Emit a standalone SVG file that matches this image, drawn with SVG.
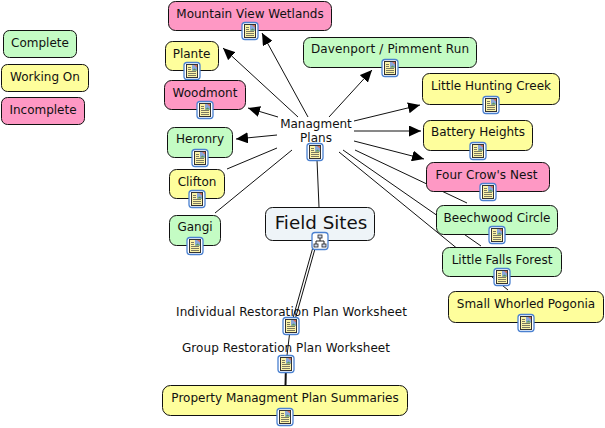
<svg xmlns="http://www.w3.org/2000/svg" xmlns:xlink="http://www.w3.org/1999/xlink" width="605" height="428" viewBox="0 0 605 428">
<style>
text{font-family:"DejaVu Sans",Verdana,sans-serif;font-size:12px;fill:#111;text-anchor:middle}
.n{stroke:#111;stroke-width:1}
.g{fill:#c4fcc4}.y{fill:#fefe9c}.p{fill:#fe98c4}.b{fill:#eef4f8}
.c{fill:none;stroke:#111;stroke-width:1}
</style>
<defs>
<marker id="a" markerUnits="userSpaceOnUse" markerWidth="12" markerHeight="11" refX="12" refY="5.500" orient="auto"><path d="M0 0L12 5.500L0 11z" fill="#000"/></marker>
<g id="doc">
<rect x="-8" y="-8.500" width="16" height="17" rx="3" fill="#fff" stroke="#4a80d0" stroke-width="1.300"/>
<rect x="-5.500" y="-6.500" width="11" height="13" fill="#fbf3a8" stroke="#333" stroke-width="1"/>
<rect x="0" y="-6" width="5" height="5.500" fill="#8aa6d8"/>
<path d="M2-6h3v2.500z" fill="#d8705a"/>
<path d="M0-.5l2.500-2 2.500 2z" fill="#5a9a5a"/>
<path d="M-4-3.500h3M-4-1.500h3M-4 .5h8M-4 2.500h8M-4 4.500h8" stroke="#444" stroke-width="0.700"/>
</g>
<g id="map">
<rect x="-8" y="-8.500" width="16" height="17" rx="3" fill="#fff" stroke="#4a80d0" stroke-width="1.300"/>
<path d="M0-3V0M-4 3V0H4V3" fill="none" stroke="#222" stroke-width="1"/>
<rect x="-2" y="-6" width="4" height="3" fill="#cdd8ee" stroke="#222" stroke-width="0.800"/>
<rect x="-6" y="3" width="4" height="3" fill="#cdd8ee" stroke="#222" stroke-width="0.800"/>
<rect x="2" y="3" width="4" height="3" fill="#cdd8ee" stroke="#222" stroke-width="0.800"/>
</g>
</defs>
<rect width="605" height="428" fill="#fff"/>
<g id="connectors">
<path class="c" marker-end="url(#a)" d="M308 117L262 33"/>
<path class="c" marker-end="url(#a)" d="M298 117L223 48"/>
<path class="c" marker-end="url(#a)" d="M278 117L248 108"/>
<path class="c" marker-end="url(#a)" d="M277 135L236 139"/>
<path class="c" d="M277 148L227 169"/>
<path class="c" d="M292 150L215 213"/>
<path class="c" marker-end="url(#a)" d="M329 117L372 70"/>
<path class="c" marker-end="url(#a)" d="M354 121L420 105"/>
<path class="c" marker-end="url(#a)" d="M354 131L421 131"/>
<path class="c" marker-end="url(#a)" d="M354 141L424 159"/>
<path class="c" d="M355 150L467 203"/>
<path class="c" d="M343 150L481 246"/>
<path class="c" d="M339 152L508 290"/>
<path class="c" d="M317 160L319 207"/>
<path class="c" d="M313 247L293 318"/>
<path class="c" d="M315.500 247L295.500 318"/>
<path class="c" d="M290 330L286 364"/>
<path class="c" d="M286 364L285.500 385" style="stroke-width:2"/>
</g>
<g id="legend-complete"><rect class="n g" x="3.500" y="30.500" width="73" height="27" rx="6"/><text x="40" y="47">Complete</text></g>
<g id="legend-working"><rect class="n y" x="1.500" y="64.500" width="87" height="27" rx="6"/><text x="45" y="81">Working On</text></g>
<g id="legend-incomplete"><rect class="n p" x="1.500" y="97.500" width="83" height="27" rx="6"/><text x="43" y="114">Incomplete</text></g>
<g id="mountain-view"><rect class="n p" x="168.500" y="1.500" width="163" height="29" rx="7"/><text x="250" y="18">Mountain View Wetlands</text><use xlink:href="#doc" href="#doc" x="250" y="31"/></g>
<g id="plante"><rect class="n y" x="165.500" y="41.500" width="53" height="29" rx="7"/><text x="191.500" y="58">Plante</text><use xlink:href="#doc" href="#doc" x="192" y="71"/></g>
<g id="woodmont"><rect class="n p" x="164.500" y="80.500" width="81" height="29" rx="7"/><text x="205" y="97">Woodmont</text><use xlink:href="#doc" href="#doc" x="205" y="110"/></g>
<g id="heronry"><rect class="n g" x="167.500" y="127.500" width="65" height="30" rx="7"/><text x="200" y="143">Heronry</text><use xlink:href="#doc" href="#doc" x="200" y="158"/></g>
<g id="clifton"><rect class="n y" x="169.500" y="169.500" width="55" height="29" rx="7"/><text x="197" y="186">Clifton</text><use xlink:href="#doc" href="#doc" x="197" y="199"/></g>
<g id="gangi"><rect class="n g" x="169.500" y="215.500" width="51" height="30" rx="7"/><text x="195" y="231">Gangi</text><use xlink:href="#doc" href="#doc" x="195" y="246"/></g>
<g id="davenport"><rect class="n g" x="303.500" y="37.500" width="173" height="30" rx="7"/><text x="390" y="53" textLength="158">Davenport / Pimment Run</text><use xlink:href="#doc" href="#doc" x="390" y="68"/></g>
<g id="little-hunting"><rect class="n y" x="422.500" y="73.500" width="137" height="31" rx="7"/><text x="491" y="90">Little Hunting Creek</text><use xlink:href="#doc" href="#doc" x="491" y="105"/></g>
<g id="battery"><rect class="n y" x="423.500" y="120.500" width="109" height="30" rx="7"/><text x="478" y="136">Battery Heights</text><use xlink:href="#doc" href="#doc" x="478" y="151"/></g>
<g id="four-crow"><rect class="n p" x="426.500" y="162.500" width="123" height="29" rx="7"/><text x="486.500" y="179" textLength="102">Four Crow's Nest</text><use xlink:href="#doc" href="#doc" x="488" y="192"/></g>
<g id="beechwood"><rect class="n g" x="436.500" y="205.500" width="121" height="29" rx="7"/><text x="497" y="222">Beechwood Circle</text><use xlink:href="#doc" href="#doc" x="497" y="235"/></g>
<g id="little-falls"><rect class="n g" x="442.500" y="247.500" width="119" height="29" rx="7"/><text x="502" y="264">Little Falls Forest</text><use xlink:href="#doc" href="#doc" x="502" y="277"/></g>
<g id="small-whorled"><rect class="n y" x="448.500" y="291.500" width="155" height="31" rx="7"/><text x="526" y="308">Small Whorled Pogonia</text><use xlink:href="#doc" href="#doc" x="526" y="323"/></g>
<g id="managment-plans"><text x="316" y="128">Managment</text><text x="316" y="142">Plans</text><use xlink:href="#doc" href="#doc" x="315" y="152"/></g>
<g id="field-sites"><rect class="n b" x="265.500" y="207.500" width="109" height="33" rx="7"/><text x="321" y="229" style="font-size:18.300px">Field Sites</text><use xlink:href="#map" href="#map" x="320" y="241"/></g>
<g id="individual"><text x="291.500" y="316" textLength="231">Individual Restoration Plan Worksheet</text><use xlink:href="#doc" href="#doc" x="291" y="326"/></g>
<g id="group"><text x="286" y="352" textLength="208">Group Restoration Plan Worksheet</text><use xlink:href="#doc" href="#doc" x="286" y="364"/></g>
<g id="property"><rect class="n y" x="162.500" y="385.500" width="245" height="30" rx="8"/><text x="285" y="402">Property Managment Plan Summaries</text><use xlink:href="#doc" href="#doc" x="285" y="417"/></g>
</svg>
